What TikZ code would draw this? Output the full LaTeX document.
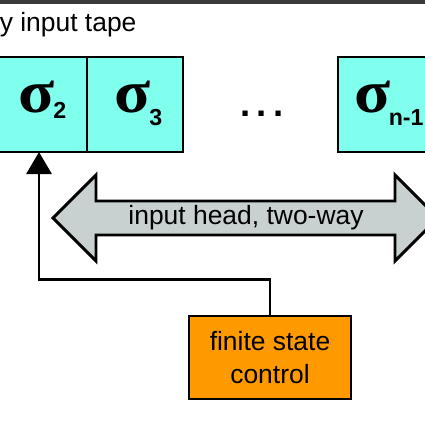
\documentclass[tikz,border=0pt]{standalone}
\usepackage{fontspec}
\setmainfont{Liberation Sans}
\newfontfamily\sigfont{Liberation Serif}
\usepackage{xcolor}
\usetikzlibrary{positioning,arrows.meta}
\definecolor{tapecyan}{RGB}{128,255,238}
\definecolor{headgray}{RGB}{200,208,208}
\definecolor{ctrlorange}{RGB}{255,153,0}
\definecolor{barblack}{RGB}{58,58,58}
\newcommand{\sig}[3]{\hspace*{#3}\scalebox{1.1}[1]{\fontsize{43pt}{43pt}\sigfont\bfseries σ}\kern-1pt\raisebox{#2}{\fontsize{16.5pt}{16.5pt}\selectfont\bfseries #1}}

\begin{document}
\begin{tikzpicture}[x=0.025cm,y=-0.025cm,
        cell/.style={draw,line width=1.8pt,fill=tapecyan,outer sep=0pt,inner sep=0pt,minimum width=2.4cm,minimum height=2.375cm,text height=11.5pt,text depth=0pt},
        ctrlbox/.style={draw,line width=1.8pt,fill=ctrlorange,inner sep=0pt,minimum width=4.05cm,minimum height=2.075cm,align=center,font=\fontsize{18.8pt}{23.5pt}\selectfont},
        link/.style={line width=2.1pt,-{Triangle[width=0.625cm,length=0.55cm]}}]
    \useasboundingbox (0,0) rectangle (425,425);
    \clip (0,0) rectangle (425,425);
    \fill[barblack] (0,0) rectangle (425,4);
    \node[anchor=base west,inner sep=0pt,font=\fontsize{18.8pt}{22pt}\selectfont] (title) at (-0.5,32) {y input tape};
    % tape cells
    \node[cell] (s2) at (39,104.5) {\sig{2}{-4.3pt}{5pt}};
    \node[cell,right=0pt of s2] (s3) {\sig{3}{-9.2pt}{5pt}};
    \node[cell] (sn) at (386,104.5) {\sig{n-1}{-9.2pt}{4pt}};
    \node[anchor=base,inner sep=0pt,font=\fontsize{26pt}{26pt}\selectfont\bfseries] (dots) at (262,117) {.\kern4.7pt.\kern4.7pt.};
    % input head
    \draw[line width=2.1pt,fill=headgray] (53,218) -- (96,175) -- (96,201) -- (395,201) -- (395,175) -- (438,218)
        -- (395,261) -- (395,235) -- (96,235) -- (96,261) -- cycle;
    \node[font=\fontsize{18.8pt}{22pt}\selectfont] (head) at (246,218) {input head, two-way};
    % control
    \node[ctrlbox] (fsc) at (270,357.5) {finite state\\control};
    \draw[link] (fsc.north) -- ++(0,-35) -| (s2.south);
\end{tikzpicture}
\end{document}
